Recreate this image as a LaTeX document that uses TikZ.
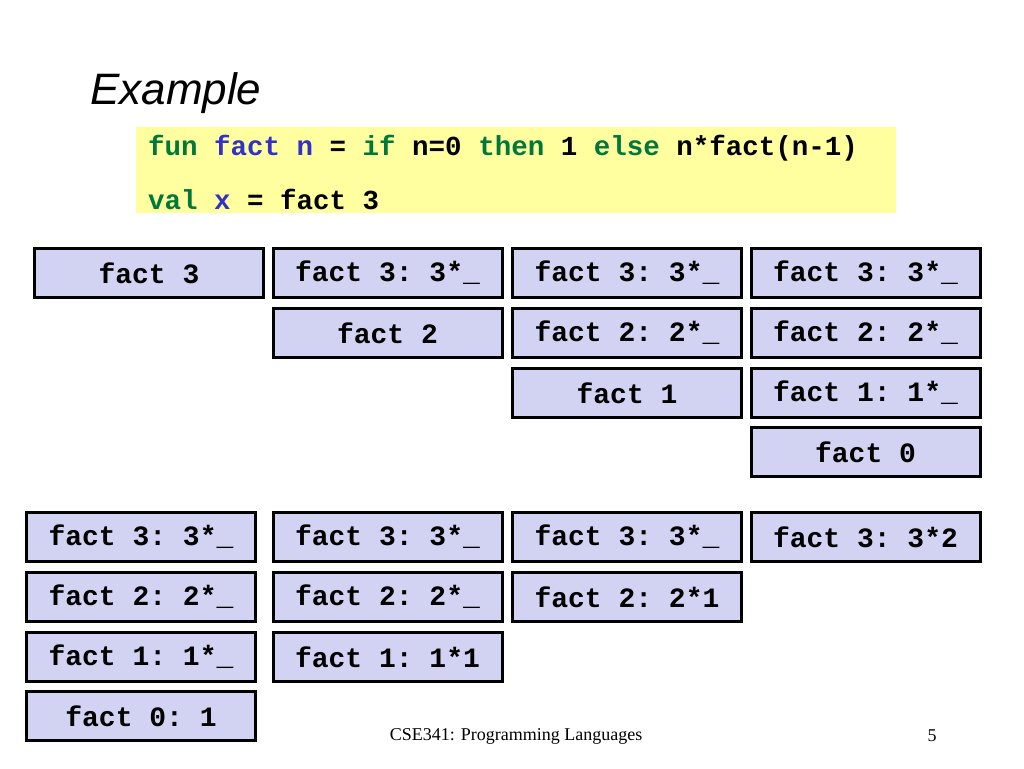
\documentclass[tikz,border=0pt]{standalone}
\usepackage{fontspec}
\setmainfont{Liberation Serif}
\newfontfamily\titlefont{Liberation Sans}
\setmonofont{Liberation Mono}
\definecolor{codebg}{RGB}{255,255,160}
\definecolor{framebg}{RGB}{210,210,242}
\definecolor{kwgreen}{RGB}{0,120,60}
\definecolor{idblue}{RGB}{50,50,200}
\begin{document}
\begin{tikzpicture}[x=1pt, y=-1pt,
    frame/.style={draw=black, line width=3pt, fill=framebg, minimum width=229pt,
        minimum height=49pt, inner sep=0pt, font=\fontsize{28}{30}\selectfont\ttfamily\bfseries},
    codeline/.style={anchor=west, inner sep=0pt, font=\fontsize{27.5}{30}\selectfont\ttfamily\bfseries}]
\useasboundingbox[fill=white] (0,0) rectangle (1024,768);
\node[anchor=west, inner sep=0pt, font=\fontsize{44}{48}\selectfont\titlefont\itshape] (title) at (90,93) {Example};
\fill[codebg] (136,127) rectangle (896,213);
\node[codeline] (code1) at (148,148) {\color{kwgreen}fun \color{idblue}fact n \color{black}= \color{kwgreen}if \color{black}n=0 \color{kwgreen}then \color{black}1 \color{kwgreen}else \color{black}n*fact(n-1)};
\node[codeline] (code2) at (148,199) {\color{kwgreen}val \color{idblue}x \color{black}= fact 3};
% upper part: calls
\node[frame] (a1) at (149,273) {fact 3};
\node[frame] (b1) at (387.5,273) {fact 3: 3*\_};
\node[frame] (b2) at (387.5,333) {fact 2};
\node[frame] (c1) at (627,273) {fact 3: 3*\_};
\node[frame] (c2) at (627,333) {fact 2: 2*\_};
\node[frame] (c3) at (627,393) {fact 1};
\node[frame] (d1) at (865.5,273) {fact 3: 3*\_};
\node[frame] (d2) at (865.5,333) {fact 2: 2*\_};
\node[frame] (d3) at (865.5,393) {fact 1: 1*\_};
\node[frame] (d4) at (865.5,452) {fact 0};
% lower part: returns
\node[frame] (e1) at (141,537) {fact 3: 3*\_};
\node[frame] (e2) at (141,597) {fact 2: 2*\_};
\node[frame] (e3) at (141,657) {fact 1: 1*\_};
\node[frame] (e4) at (141,716) {fact 0: 1};
\node[frame] (f1) at (387.5,537) {fact 3: 3*\_};
\node[frame] (f2) at (387.5,597) {fact 2: 2*\_};
\node[frame] (f3) at (387.5,657) {fact 1: 1*1};
\node[frame] (g1) at (627,537) {fact 3: 3*\_};
\node[frame] (g2) at (627,597) {fact 2: 2*1};
\node[frame] (h1) at (865.5,537) {fact 3: 3*2};
\node[font=\fontsize{18}{20}\selectfont] (foot) at (516,736) {CSE341: Programming Languages};
\node[font=\fontsize{18}{20}\selectfont] (page) at (932,736) {5};
\end{tikzpicture}
\end{document}
